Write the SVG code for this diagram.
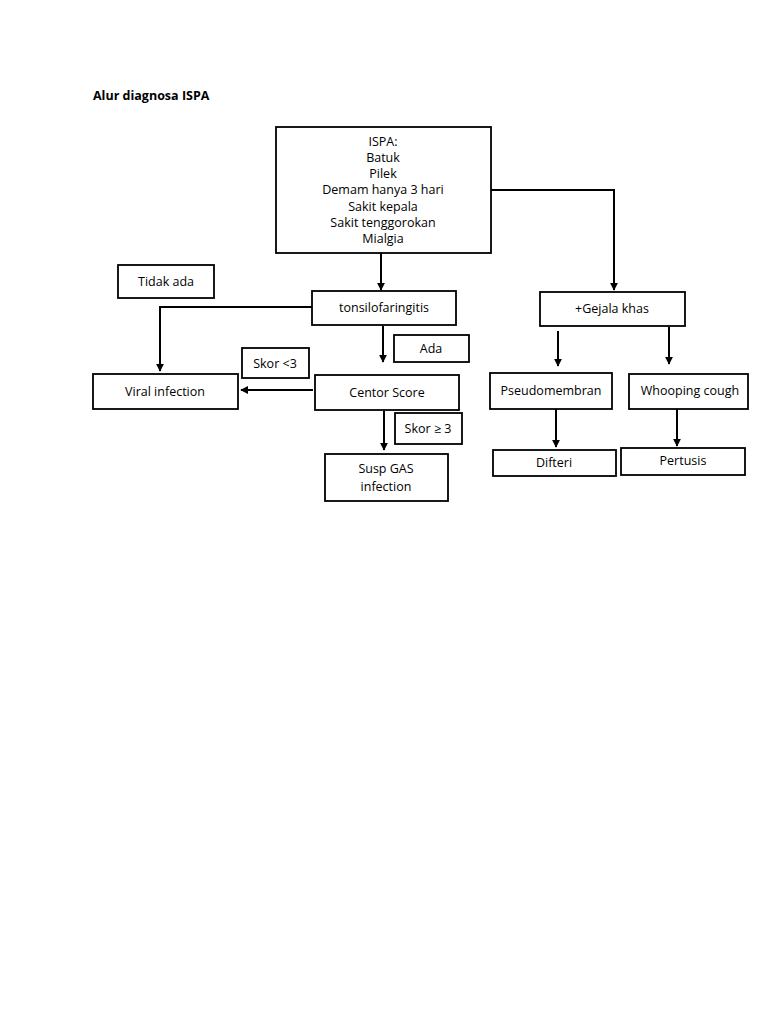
<svg xmlns="http://www.w3.org/2000/svg" width="768" height="1024" viewBox="0 0 768 1024">
<defs>
<marker id="ah" viewBox="0 0 10 10" refX="9" refY="5" markerWidth="4" markerHeight="4" orient="auto" markerUnits="strokeWidth">
<path d="M0,0 L10,5 L0,10 z" fill="#000"/>
</marker>
<style>
.box{fill:#fff;stroke:#000;stroke-width:1.8}
.t{font-family:"Open Sans","Liberation Sans",sans-serif;font-size:12.5px;fill:#000;text-anchor:middle}
.c{fill:none;stroke:#000;stroke-width:2;marker-end:url(#ah)}
</style>
</defs>
<rect width="768" height="1024" fill="#fff"/>
<text x="93" y="100" style="font-family:'Open Sans','Liberation Sans',sans-serif;font-size:12.5px;font-weight:bold">Alur diagnosa ISPA</text>
<g id="connectors">
<path class="c" d="M381,253 V290"/>
<path class="c" d="M491,190 H614 V290"/>
<path class="c" d="M312,307 H160 V371"/>
<path class="c" d="M383,326 V362"/>
<path class="c" d="M313,390 H241"/>
<path class="c" d="M384,411 V450"/>
<path class="c" d="M558,331 V366"/>
<path class="c" d="M669,327 V364"/>
<path class="c" d="M556,409 V447"/>
<path class="c" d="M677,409 V446"/>
</g>
<g id="ispa">
<rect class="box" x="276" y="127" width="215" height="126"/>
<text class="t" x="383" y="146">ISPA:</text>
<text class="t" x="383" y="162">Batuk</text>
<text class="t" x="383" y="178">Pilek</text>
<text class="t" x="383" y="194">Demam hanya 3 hari</text>
<text class="t" x="383" y="211">Sakit kepala</text>
<text class="t" x="383" y="227">Sakit tenggorokan</text>
<text class="t" x="383" y="243">Mialgia</text>
</g>
<g id="tidak-ada"><rect class="box" x="118" y="265" width="96" height="33"/><text class="t" x="166" y="286">Tidak ada</text></g>
<g id="tonsil"><rect class="box" x="312" y="291" width="144" height="34"/><text class="t" x="384" y="312">tonsilofaringitis</text></g>
<g id="ada"><rect class="box" x="394" y="335" width="75" height="27"/><text class="t" x="431" y="353">Ada</text></g>
<g id="skor-lt3"><rect class="box" x="242" y="348" width="67" height="30"/><text class="t" x="275" y="368">Skor &lt;3</text></g>
<g id="viral"><rect class="box" x="93" y="374" width="145" height="35"/><text class="t" x="165" y="396">Viral infection</text></g>
<g id="centor"><rect class="box" x="315" y="375" width="144" height="35"/><text class="t" x="387" y="397">Centor Score</text></g>
<g id="skor-ge3"><rect class="box" x="395" y="413" width="67" height="31"/><text class="t" x="428" y="433">Skor ≥ 3</text></g>
<g id="gas"><rect class="box" x="325" y="454" width="123" height="47"/><text class="t" x="386" y="473">Susp GAS</text><text class="t" x="386" y="491">infection</text></g>
<g id="gejala"><rect class="box" x="540" y="292" width="145" height="34"/><text class="t" x="612" y="313">+Gejala khas</text></g>
<g id="pseudo"><rect class="box" x="490" y="373" width="122" height="36"/><text class="t" x="551" y="395">Pseudomembran</text></g>
<g id="whooping"><rect class="box" x="629" y="374" width="119" height="35"/><text class="t" x="690" y="395">Whooping cough</text></g>
<g id="difteri"><rect class="box" x="493" y="450" width="123" height="26"/><text class="t" x="554" y="467">Difteri</text></g>
<g id="pertusis"><rect class="box" x="621" y="448" width="124" height="27"/><text class="t" x="683" y="465">Pertusis</text></g>
</svg>
